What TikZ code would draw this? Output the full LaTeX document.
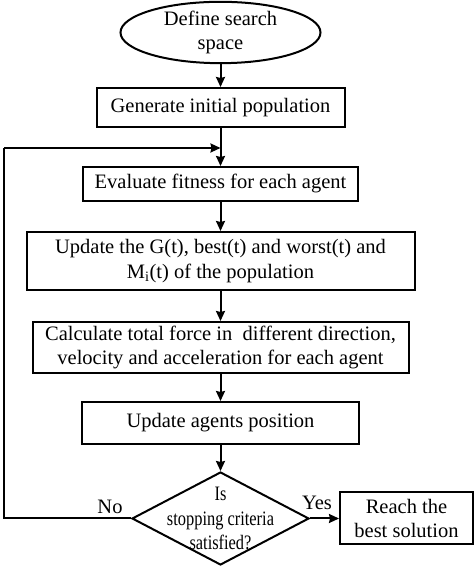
\documentclass[tikz,border=0pt]{standalone}
\usepackage{fontspec}
\setmainfont{Liberation Serif}
\usetikzlibrary{shapes.geometric,arrows.meta}
\begin{document}
\begin{tikzpicture}[x=1pt,y=1pt,
  every node/.style={font=\fontsize{20.5}{24.6}\selectfont, inner sep=0pt, align=center},
  procbox/.style={draw, line width=2pt, rectangle},
  conn/.style={line width=2pt, -{Stealth[length=10pt,width=9pt,inset=1pt]}},
  plain/.style={line width=2pt}]
\useasboundingbox (0,0) rectangle (474,569);
\node[draw, ellipse, line width=2pt, minimum width=200pt, minimum height=59pt] (start) at (220.5,536.5) {Define search\\space};
\node[procbox, minimum width=248pt, minimum height=39pt] (gen) at (220.5,461.5) {Generate initial population};
\node[procbox, minimum width=275pt, minimum height=34pt] (eval) at (220.5,385) {Evaluate fitness for each agent};
\node[procbox, minimum width=388pt, minimum height=58pt] (upd) at (220.5,308) {Update the G(t), best(t) and worst(t) and\\M\textsubscript{i}(t) of the population};
\node[procbox, minimum width=376pt, minimum height=51pt] (calc) at (220.5,221.5) {Calculate total force in\ \ different direction,\\velocity and acceleration for each agent};
\node[procbox, minimum width=277pt, minimum height=42pt] (pos) at (220.5,146) {Update agents position};
\node[draw, diamond, line width=2pt, minimum width=177pt, minimum height=93pt, aspect=1.9] (dec) at (220.5,50.5) {};
\node (dectext) at (220.5,50.5) {\scalebox{0.8}[1]{Is}\\\scalebox{0.8}[1]{stopping criteria}\\\scalebox{0.8}[1]{satisfied?}};
\node[procbox, minimum width=133pt, minimum height=52pt] (best) at (406.5,50.5) {Reach the\\best solution};
\coordinate (loopbl) at (4,50.5);
\coordinate (looptl) at (4,421);
\coordinate (join) at (220.5,421);
\node (no) at (110,62) {No};
\node (yes) at (317,66) {Yes};
\draw[conn] (start) -- (gen);
\draw[conn] (gen) -- (eval);
\draw[conn] (eval) -- (upd);
\draw[conn] (upd) -- (calc);
\draw[conn] (calc) -- (pos);
\draw[conn] (pos) -- (dec);
\draw[conn] (dec) -- (best);
\draw[plain] (dec.west) -- (loopbl) -- (looptl);
\draw[conn] (looptl) -- (join);
\end{tikzpicture}
\end{document}
